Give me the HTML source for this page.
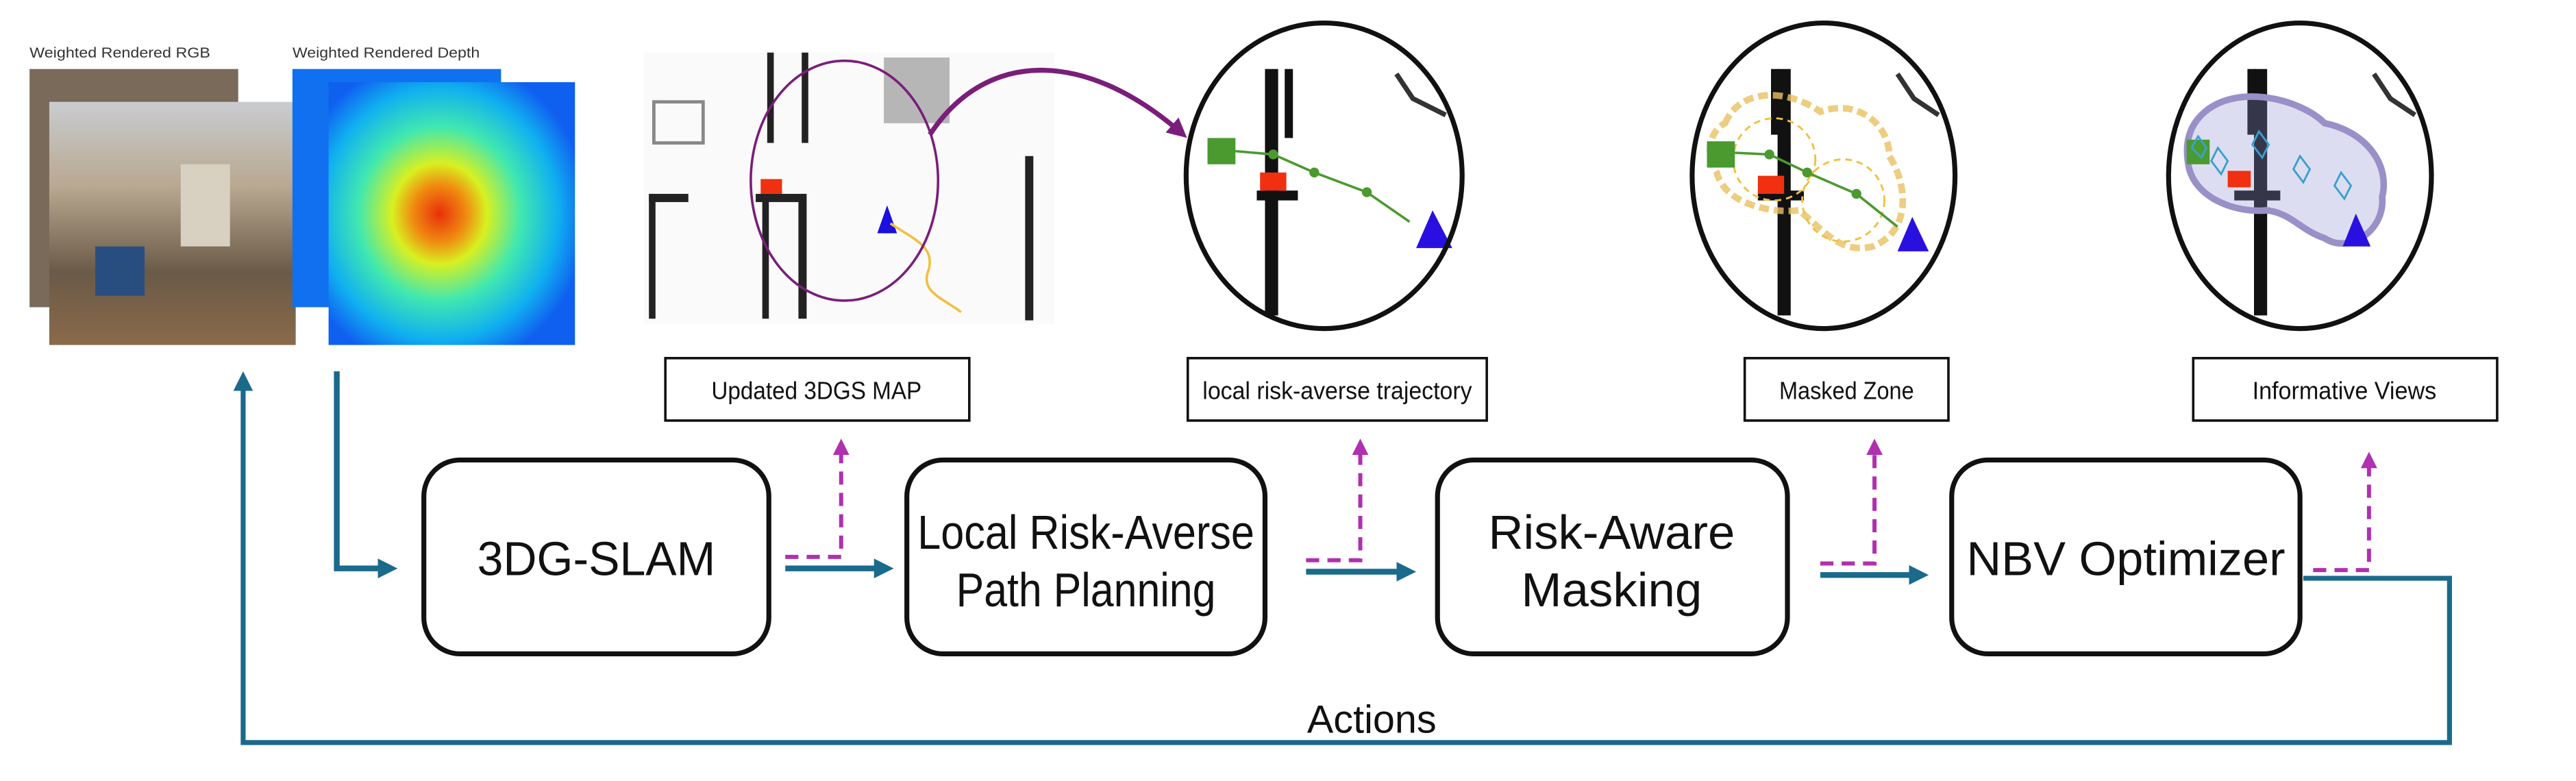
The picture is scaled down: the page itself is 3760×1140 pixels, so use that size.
<!DOCTYPE html>
<html><head><meta charset="utf-8"><style>
html,body{margin:0;padding:0;background:#fff;}
svg{display:block;}
text{font-family:"Liberation Sans",sans-serif;}
</style></head><body>
<svg width="3760" height="1140" viewBox="0 0 1568 475.4" xmlns="http://www.w3.org/2000/svg">
<defs>
<linearGradient id="room" x1="0" y1="0" x2="0" y2="1">
<stop offset="0" stop-color="#c9ccd0"/><stop offset="0.35" stop-color="#b8a890"/><stop offset="0.7" stop-color="#6a5a48"/><stop offset="1" stop-color="#8a6a4a"/></linearGradient>
<radialGradient id="depth" cx="0.45" cy="0.5" r="0.6">
<stop offset="0" stop-color="#e8300a"/><stop offset="0.18" stop-color="#f08a10"/><stop offset="0.32" stop-color="#d8f020"/><stop offset="0.55" stop-color="#40e8b0"/><stop offset="0.8" stop-color="#10b0f0"/><stop offset="1" stop-color="#1060f0"/></radialGradient>
<marker id="bh" markerWidth="12" markerHeight="12" refX="4" refY="6" orient="auto" markerUnits="userSpaceOnUse" viewBox="0 0 12 12"><path d="M0,0 L12,6 L0,12 z" fill="#1a6a8c"/></marker>
<marker id="ph" markerWidth="10" markerHeight="10" refX="3" refY="5" orient="auto" markerUnits="userSpaceOnUse" viewBox="0 0 10 10"><path d="M0,0 L10,5 L0,10 z" fill="#b030b0"/></marker>
<marker id="vh" markerWidth="12" markerHeight="12" refX="6" refY="6" orient="auto" markerUnits="userSpaceOnUse" viewBox="0 0 12 12"><path d="M0,0 L12,6 L0,12 z" fill="#7a1e7a"/></marker>
<clipPath id="c1"><ellipse cx="806" cy="107" rx="84" ry="93"/></clipPath>
<clipPath id="c2"><ellipse cx="1110" cy="107" rx="80" ry="93"/></clipPath>
<clipPath id="c3"><ellipse cx="1400" cy="107" rx="80" ry="93"/></clipPath>
</defs>

<text x="18" y="35" font-size="9" fill="#333" textLength="110" lengthAdjust="spacingAndGlyphs">Weighted Rendered RGB</text>
<text x="178" y="35" font-size="9" fill="#333" textLength="114" lengthAdjust="spacingAndGlyphs">Weighted Rendered Depth</text>
<rect x="18" y="42" width="127" height="145" fill="#7a6a5a"/>
<rect x="30" y="62" width="150" height="148" fill="url(#room)"/>
<rect x="58" y="150" width="30" height="30" fill="#284e80"/>
<rect x="110" y="100" width="30" height="50" fill="#d8d0c0"/>
<rect x="178" y="42" width="127" height="145" fill="#1070f0"/>
<rect x="200" y="50" width="150" height="160" fill="url(#depth)"/>

<rect x="392" y="32" width="250" height="165" fill="#fafafa"/>
<g fill="#222">
<rect x="395" y="118" width="4" height="76"/><rect x="395" y="118" width="24" height="5"/>
<rect x="464" y="118" width="4" height="76"/><rect x="460" y="118" width="30" height="5"/>
<rect x="486" y="118" width="5" height="76"/>
<rect x="467" y="32" width="4" height="55"/><rect x="488" y="32" width="4" height="55"/>
<rect x="624" y="95" width="5" height="100"/>
<rect x="538" y="35" width="40" height="40" fill="#888" opacity="0.6"/>
<rect x="398" y="62" width="30" height="25" fill="none" stroke="#888" stroke-width="2"/>
</g>
<rect x="463" y="109" width="13" height="9" fill="#f03010"/>
<polygon points="540,125 534,142 546,142" fill="#1a10e0"/>
<path d="M542,136 C555,145 570,150 565,165 C560,178 575,182 585,190" fill="none" stroke="#f0c040" stroke-width="1.5"/>
<ellipse cx="514" cy="110" rx="57" ry="73" fill="none" stroke="#7a1e7a" stroke-width="1.5"/>
<path d="M566,82 C600,30 660,30 718,80" fill="none" stroke="#7a1e7a" stroke-width="3" marker-end="url(#vh)"/>

<g clip-path="url(#c1)">
<rect x="700" y="10" width="200" height="200" fill="#fff"/>
<rect x="770" y="42" width="8" height="150" fill="#111"/>
<rect x="765" y="116" width="25" height="6" fill="#111"/>
<rect x="782" y="42" width="5" height="42" fill="#111"/>
<path d="M850,45 L860,60 L880,70" fill="none" stroke="#333" stroke-width="3"/>
</g>
<rect x="735" y="84" width="17" height="16" fill="#4a9a30"/>
<rect x="767" y="105" width="16" height="11" fill="#f03010"/>
<polyline points="752,92 775,94 800,105 832,117 858,135" fill="none" stroke="#4a9a30" stroke-width="1.5"/>
<g fill="#4a9a30"><circle cx="775" cy="94" r="3"/><circle cx="800" cy="105" r="3"/><circle cx="832" cy="117" r="3"/></g>
<polygon points="872,128 862,151 884,151" fill="#2a10e0"/>
<ellipse cx="806" cy="107" rx="84" ry="93" fill="none" stroke="#111" stroke-width="3"/>

<g clip-path="url(#c2)">
<rect x="1020" y="10" width="180" height="200" fill="#fff"/>
<rect x="1082" y="42" width="8" height="150" fill="#111"/>
<rect x="1070" y="116" width="28" height="6" fill="#111"/>
<rect x="1078" y="42" width="5" height="40" fill="#111"/>
<path d="M1155,45 L1165,60 L1180,70" fill="none" stroke="#333" stroke-width="3"/>
</g>
<path d="M1050,75 C1060,52 1090,55 1108,68 C1130,60 1150,75 1150,95 C1160,110 1165,140 1140,150 C1120,155 1110,140 1095,128 C1080,130 1050,125 1045,105 C1038,95 1040,80 1050,75 z" fill="none" stroke="#e8c060" stroke-width="4" stroke-dasharray="6 3" opacity="0.8"/>
<circle cx="1080" cy="97" r="25" fill="none" stroke="#f0c040" stroke-width="1.2" stroke-dasharray="4 3"/>
<circle cx="1122" cy="122" r="25" fill="none" stroke="#f0c040" stroke-width="1.2" stroke-dasharray="4 3"/>
<rect x="1039" y="86" width="17" height="16" fill="#4a9a30"/>
<rect x="1070" y="107" width="16" height="11" fill="#f03010"/>
<polyline points="1056,93 1077,94 1100,105 1130,118 1155,138" fill="none" stroke="#4a9a30" stroke-width="1.5"/>
<g fill="#4a9a30"><circle cx="1077" cy="94" r="3"/><circle cx="1100" cy="105" r="3"/><circle cx="1130" cy="118" r="3"/></g>
<polygon points="1164,132 1155,153 1174,153" fill="#2a10e0"/>
<ellipse cx="1110" cy="107" rx="80" ry="93" fill="none" stroke="#111" stroke-width="3"/>

<g clip-path="url(#c3)">
<rect x="1310" y="10" width="180" height="200" fill="#fff"/>
<rect x="1372" y="42" width="8" height="150" fill="#111"/>
<rect x="1360" y="116" width="28" height="6" fill="#111"/>
<rect x="1368" y="42" width="5" height="40" fill="#111"/>
<path d="M1445,45 L1455,60 L1470,70" fill="none" stroke="#333" stroke-width="3"/>
</g>
<path d="M1340,70 C1360,50 1400,60 1415,75 C1440,80 1455,100 1450,120 C1452,140 1430,155 1415,145 C1400,140 1395,130 1380,128 C1360,130 1335,120 1332,100 C1330,88 1332,78 1340,70 z" fill="#9090d0" fill-opacity="0.3" stroke="#9a90c8" stroke-width="4"/>
<rect x="1331" y="85" width="14" height="15" fill="#4a9a30"/>
<rect x="1356" y="104" width="14" height="10" fill="#f03010"/>
<g fill="none" stroke="#3aa0d0" stroke-width="1.2">
<polygon points="1350,90 1356,98 1352,106 1346,98"/><polygon points="1375,80 1381,88 1377,96 1371,88"/><polygon points="1400,95 1406,103 1402,111 1396,103"/><polygon points="1425,105 1431,113 1427,121 1421,113"/><polygon points="1338,83 1343,90 1340,96 1334,90"/>
</g>
<polygon points="1434,130 1426,150 1443,150" fill="#2a10e0"/>
<ellipse cx="1400" cy="107" rx="80" ry="93" fill="none" stroke="#111" stroke-width="3"/>

<g fill="#fff" stroke="#111" stroke-width="1.5">
<rect x="405" y="218" width="185" height="38"/><rect x="723" y="218" width="182" height="38"/><rect x="1062" y="218" width="124" height="38"/><rect x="1335" y="218" width="185" height="38"/>
</g>
<g font-size="15" fill="#111" text-anchor="middle">
<text x="497" y="243" textLength="128" lengthAdjust="spacingAndGlyphs">Updated 3DGS MAP</text>
<text x="814" y="243" textLength="164" lengthAdjust="spacingAndGlyphs">local risk-averse trajectory</text>
<text x="1124" y="243" textLength="82" lengthAdjust="spacingAndGlyphs">Masked Zone</text>
<text x="1427" y="243" textLength="112" lengthAdjust="spacingAndGlyphs">Informative Views</text>
</g>

<g fill="#fff" stroke="#111" stroke-width="3">
<rect x="258" y="280" width="210" height="118" rx="22"/><rect x="552" y="280" width="218" height="118" rx="22"/><rect x="875" y="280" width="213" height="118" rx="22"/><rect x="1188" y="280" width="212" height="118" rx="22"/>
</g>
<g font-size="29" fill="#111" text-anchor="middle">
<text x="363" y="350" textLength="145" lengthAdjust="spacingAndGlyphs">3DG-SLAM</text>
<text x="661" y="334" textLength="205" lengthAdjust="spacingAndGlyphs">Local Risk-Averse</text>
<text x="661" y="369" textLength="158" lengthAdjust="spacingAndGlyphs">Path Planning</text>
<text x="981" y="334" textLength="150" lengthAdjust="spacingAndGlyphs">Risk-Aware</text>
<text x="981" y="369" textLength="110" lengthAdjust="spacingAndGlyphs">Masking</text>
<text x="1294" y="350" textLength="194" lengthAdjust="spacingAndGlyphs">NBV Optimizer</text>
</g>

<g fill="none" stroke="#1a6a8c" stroke-width="3.5">
<polyline points="205,226 205,346 234,346" marker-end="url(#bh)"/>
<line x1="478" y1="346" x2="536" y2="346" marker-end="url(#bh)"/>
<line x1="795" y1="348" x2="854" y2="348" marker-end="url(#bh)"/>
<line x1="1108" y1="350" x2="1166" y2="350" marker-end="url(#bh)"/>
<polyline points="1402,352 1491,352 1491,452 148,452 148,234" stroke-width="3" marker-end="url(#bh)"/>
</g>
<g fill="none" stroke="#b030b0" stroke-width="2.5" stroke-dasharray="8 5">
<polyline points="478,339 512,339 512,274" marker-end="url(#ph)"/>
<polyline points="795,341 828,341 828,274" marker-end="url(#ph)"/>
<polyline points="1108,343 1141,343 1141,274" marker-end="url(#ph)"/>
<polyline points="1408,347 1442,347 1442,282" marker-end="url(#ph)"/>
</g>
<text x="835" y="446" font-size="24" fill="#111" text-anchor="middle">Actions</text>
</svg>
</body></html>
